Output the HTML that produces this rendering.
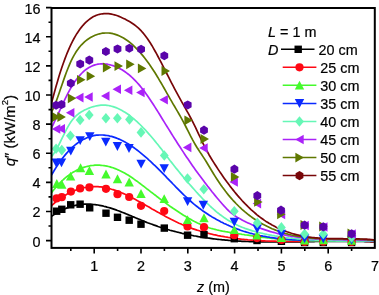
<!DOCTYPE html>
<html><head><meta charset="utf-8"><style>
html,body{margin:0;padding:0;background:#fff;}
body{width:379px;height:295px;overflow:hidden;}
svg{display:block;}
text{font-family:"Liberation Sans",Arial,sans-serif;font-size:14.4px;fill:#000;stroke:#000;stroke-width:0.2px;}
</style></head><body>
<svg width="379" height="295" viewBox="0 0 379 295">
<rect width="379" height="295" fill="#fff"/>

<defs><clipPath id="c"><rect x="51.5" y="8.0" width="323.3" height="239.9"/></clipPath></defs><g clip-path="url(#c)" fill="none" stroke-width="1.7" stroke-linejoin="round">
<polyline points="51.5,216.4 53.0,215.4 54.5,214.4 56.0,213.4 57.5,212.5 59.0,211.7 60.5,210.9 62.0,210.1 63.5,209.4 65.0,208.7 66.5,208.1 68.0,207.6 69.5,207.1 71.0,206.6 72.5,206.2 74.0,205.8 75.5,205.4 77.0,205.1 78.5,204.9 80.0,204.7 81.5,204.5 83.0,204.3 84.5,204.2 86.0,204.2 87.5,204.2 89.0,204.2 90.5,204.2 92.0,204.3 93.5,204.5 95.0,204.6 96.5,204.8 98.0,205.0 99.5,205.3 101.0,205.6 102.5,205.9 104.0,206.3 105.5,206.6 107.0,207.1 108.5,207.5 110.0,207.9 111.5,208.4 113.0,208.9 114.5,209.4 116.0,209.9 117.5,210.5 119.0,211.0 120.5,211.6 122.0,212.2 123.5,212.8 125.0,213.4 126.5,214.0 128.0,214.6 129.5,215.2 131.0,215.8 132.5,216.5 134.0,217.1 135.5,217.7 137.0,218.4 138.5,219.0 140.0,219.6 141.5,220.3 143.0,220.9 144.5,221.5 146.0,222.1 147.5,222.7 149.0,223.2 150.5,223.8 152.0,224.3 153.5,224.9 155.0,225.4 156.5,225.9 158.0,226.5 159.5,227.0 161.0,227.4 162.5,227.9 164.0,228.4 165.5,228.8 167.0,229.3 168.5,229.7 170.0,230.2 171.5,230.6 173.0,231.0 174.5,231.4 176.0,231.8 177.5,232.2 179.0,232.5 180.5,232.9 182.0,233.3 183.5,233.6 185.0,233.9 186.5,234.3 188.0,234.6 189.5,234.9 191.0,235.2 192.5,235.5 194.0,235.8 195.5,236.0 197.0,236.3 198.5,236.6 200.0,236.8 201.5,237.1 203.0,237.3 204.5,237.6 206.0,237.8 207.5,238.0 209.0,238.2 210.5,238.4 212.0,238.6 213.5,238.8 215.0,239.0 216.5,239.2 218.0,239.3 219.5,239.5 221.0,239.6 222.5,239.8 224.0,239.9 225.5,240.1 227.0,240.2 228.5,240.3 230.0,240.5 231.5,240.6 233.0,240.7 234.5,240.8 236.0,240.9 237.5,241.0 239.0,241.1 240.5,241.2 242.0,241.3 243.5,241.3 245.0,241.4 246.5,241.5 248.0,241.5 249.5,241.6 251.0,241.6 252.5,241.7 254.0,241.7 255.5,241.8 257.0,241.8 258.5,241.9 260.0,241.9 261.5,241.9 263.0,241.9 264.5,242.0 266.0,242.0 267.5,242.0 269.0,242.0 270.5,242.0 272.0,242.0 273.5,242.0 275.0,242.0 276.5,242.0 278.0,242.0 279.5,242.0 281.0,242.0 282.5,242.0 284.0,242.0 285.5,242.0 287.0,242.0 288.5,242.0 290.0,241.9 291.5,241.9 293.0,241.9 294.5,241.9 296.0,241.9 297.5,241.8 299.0,241.8 300.5,241.8 302.0,241.8 303.5,241.7 305.0,241.7 306.5,241.7 308.0,241.7 309.5,241.6 311.0,241.6 312.5,241.6 314.0,241.6 315.5,241.5 317.0,241.5 318.5,241.5 320.0,241.5 321.5,241.4 323.0,241.4 324.5,241.4 326.0,241.4 327.5,241.4 329.0,241.3 330.5,241.3 332.0,241.3 333.5,241.3 335.0,241.3 336.5,241.3 338.0,241.3 339.5,241.3 341.0,241.3 342.5,241.3 344.0,241.3 345.5,241.3 347.0,241.3 348.5,241.3 350.0,241.3 351.5,241.3 353.0,241.3 354.5,241.3 356.0,241.4 357.5,241.4 359.0,241.4 360.5,241.5 362.0,241.5 363.5,241.5 365.0,241.6 366.5,241.6 368.0,241.7 369.5,241.7 371.0,241.8 372.5,241.9 374.0,241.9" stroke="#000000"/>
<polyline points="51.5,205.6 53.0,204.3 54.5,203.0 56.0,201.7 57.5,200.5 59.0,199.4 60.5,198.3 62.0,197.3 63.5,196.3 65.0,195.4 66.5,194.5 68.0,193.6 69.5,192.8 71.0,192.1 72.5,191.4 74.0,190.8 75.5,190.2 77.0,189.6 78.5,189.1 80.0,188.6 81.5,188.2 83.0,187.9 84.5,187.5 86.0,187.3 87.5,187.0 89.0,186.8 90.5,186.7 92.0,186.6 93.5,186.6 95.0,186.5 96.5,186.6 98.0,186.7 99.5,186.8 101.0,186.9 102.5,187.1 104.0,187.4 105.5,187.7 107.0,188.0 108.5,188.3 110.0,188.7 111.5,189.2 113.0,189.6 114.5,190.1 116.0,190.6 117.5,191.2 119.0,191.8 120.5,192.4 122.0,193.0 123.5,193.6 125.0,194.3 126.5,195.0 128.0,195.7 129.5,196.5 131.0,197.2 132.5,198.0 134.0,198.8 135.5,199.6 137.0,200.4 138.5,201.2 140.0,202.0 141.5,202.9 143.0,203.7 144.5,204.6 146.0,205.4 147.5,206.3 149.0,207.1 150.5,208.0 152.0,208.9 153.5,209.7 155.0,210.6 156.5,211.4 158.0,212.3 159.5,213.1 161.0,214.0 162.5,214.8 164.0,215.6 165.5,216.4 167.0,217.2 168.5,218.0 170.0,218.8 171.5,219.6 173.0,220.3 174.5,221.1 176.0,221.8 177.5,222.5 179.0,223.2 180.5,223.8 182.0,224.5 183.5,225.1 185.0,225.7 186.5,226.3 188.0,226.9 189.5,227.5 191.0,228.0 192.5,228.6 194.0,229.1 195.5,229.6 197.0,230.1 198.5,230.5 200.0,231.0 201.5,231.4 203.0,231.9 204.5,232.3 206.0,232.7 207.5,233.1 209.0,233.5 210.5,233.9 212.0,234.2 213.5,234.6 215.0,234.9 216.5,235.2 218.0,235.6 219.5,235.9 221.0,236.2 222.5,236.4 224.0,236.7 225.5,237.0 227.0,237.2 228.5,237.5 230.0,237.7 231.5,237.9 233.0,238.2 234.5,238.4 236.0,238.6 237.5,238.8 239.0,238.9 240.5,239.1 242.0,239.3 243.5,239.4 245.0,239.6 246.5,239.7 248.0,239.9 249.5,240.0 251.0,240.1 252.5,240.2 254.0,240.4 255.5,240.5 257.0,240.5 258.5,240.6 260.0,240.7 261.5,240.8 263.0,240.9 264.5,240.9 266.0,241.0 267.5,241.0 269.0,241.1 270.5,241.1 272.0,241.2 273.5,241.2 275.0,241.2 276.5,241.3 278.0,241.3 279.5,241.3 281.0,241.3 282.5,241.3 284.0,241.3 285.5,241.3 287.0,241.3 288.5,241.3 290.0,241.3 291.5,241.3 293.0,241.3 294.5,241.3 296.0,241.3 297.5,241.3 299.0,241.3 300.5,241.2 302.0,241.2 303.5,241.2 305.0,241.2 306.5,241.1 308.0,241.1 309.5,241.1 311.0,241.1 312.5,241.0 314.0,241.0 315.5,241.0 317.0,241.0 318.5,240.9 320.0,240.9 321.5,240.9 323.0,240.9 324.5,240.8 326.0,240.8 327.5,240.8 329.0,240.8 330.5,240.8 332.0,240.7 333.5,240.7 335.0,240.7 336.5,240.7 338.0,240.7 339.5,240.7 341.0,240.7 342.5,240.7 344.0,240.7 345.5,240.7 347.0,240.7 348.5,240.7 350.0,240.8 351.5,240.8 353.0,240.8 354.5,240.8 356.0,240.9 357.5,240.9 359.0,241.0 360.5,241.0 362.0,241.1 363.5,241.1 365.0,241.2 366.5,241.3 368.0,241.4 369.5,241.5 371.0,241.5 372.5,241.6 374.0,241.7" stroke="#ff0814"/>
<polyline points="51.5,192.7 53.0,190.8 54.5,189.0 56.0,187.2 57.5,185.5 59.0,183.9 60.5,182.4 62.0,180.9 63.5,179.5 65.0,178.2 66.5,176.9 68.0,175.8 69.5,174.6 71.0,173.6 72.5,172.6 74.0,171.7 75.5,170.9 77.0,170.1 78.5,169.4 80.0,168.7 81.5,168.1 83.0,167.6 84.5,167.1 86.0,166.7 87.5,166.3 89.0,166.0 90.5,165.7 92.0,165.5 93.5,165.4 95.0,165.2 96.5,165.2 98.0,165.2 99.5,165.2 101.0,165.3 102.5,165.5 104.0,165.7 105.5,165.9 107.0,166.2 108.5,166.5 110.0,166.9 111.5,167.4 113.0,167.8 114.5,168.4 116.0,168.9 117.5,169.6 119.0,170.2 120.5,170.9 122.0,171.7 123.5,172.5 125.0,173.3 126.5,174.2 128.0,175.1 129.5,176.0 131.0,177.0 132.5,178.0 134.0,179.1 135.5,180.2 137.0,181.2 138.5,182.4 140.0,183.5 141.5,184.6 143.0,185.8 144.5,186.9 146.0,188.1 147.5,189.3 149.0,190.4 150.5,191.6 152.0,192.7 153.5,193.9 155.0,195.0 156.5,196.2 158.0,197.3 159.5,198.5 161.0,199.6 162.5,200.7 164.0,201.8 165.5,202.9 167.0,204.0 168.5,205.1 170.0,206.2 171.5,207.2 173.0,208.3 174.5,209.3 176.0,210.3 177.5,211.3 179.0,212.3 180.5,213.3 182.0,214.2 183.5,215.2 185.0,216.1 186.5,217.0 188.0,217.9 189.5,218.7 191.0,219.5 192.5,220.4 194.0,221.2 195.5,221.9 197.0,222.7 198.5,223.4 200.0,224.1 201.5,224.7 203.0,225.4 204.5,226.0 206.0,226.6 207.5,227.1 209.0,227.7 210.5,228.2 212.0,228.6 213.5,229.0 215.0,229.4 216.5,229.8 218.0,230.2 219.5,230.5 221.0,230.8 222.5,231.1 224.0,231.3 225.5,231.6 227.0,231.8 228.5,232.1 230.0,232.3 231.5,232.6 233.0,232.8 234.5,233.1 236.0,233.3 237.5,233.6 239.0,233.8 240.5,234.0 242.0,234.3 243.5,234.5 245.0,234.8 246.5,235.0 248.0,235.2 249.5,235.4 251.0,235.7 252.5,235.9 254.0,236.1 255.5,236.3 257.0,236.5 258.5,236.7 260.0,236.9 261.5,237.1 263.0,237.3 264.5,237.5 266.0,237.7 267.5,237.8 269.0,238.0 270.5,238.2 272.0,238.3 273.5,238.5 275.0,238.6 276.5,238.8 278.0,238.9 279.5,239.0 281.0,239.2 282.5,239.3 284.0,239.4 285.5,239.5 287.0,239.6 288.5,239.7 290.0,239.8 291.5,239.9 293.0,240.0 294.5,240.1 296.0,240.2 297.5,240.2 299.0,240.3 300.5,240.4 302.0,240.4 303.5,240.5 305.0,240.6 306.5,240.6 308.0,240.7 309.5,240.7 311.0,240.8 312.5,240.8 314.0,240.8 315.5,240.9 317.0,240.9 318.5,241.0 320.0,241.0 321.5,241.0 323.0,241.0 324.5,241.1 326.0,241.1 327.5,241.1 329.0,241.1 330.5,241.1 332.0,241.2 333.5,241.2 335.0,241.2 336.5,241.2 338.0,241.2 339.5,241.2 341.0,241.2 342.5,241.2 344.0,241.2 345.5,241.2 347.0,241.2 348.5,241.2 350.0,241.2 351.5,241.2 353.0,241.2 354.5,241.2 356.0,241.2 357.5,241.2 359.0,241.2 360.5,241.2 362.0,241.2 363.5,241.2 365.0,241.2 366.5,241.2 368.0,241.2 369.5,241.2 371.0,241.2 372.5,241.2 374.0,241.3" stroke="#45fa2c"/>
<polyline points="51.5,175.1 53.0,172.5 54.5,170.0 56.0,167.6 57.5,165.3 59.0,163.1 60.5,161.0 62.0,158.9 63.5,157.0 65.0,155.1 66.5,153.4 68.0,151.7 69.5,150.1 71.0,148.6 72.5,147.2 74.0,145.9 75.5,144.7 77.0,143.5 78.5,142.4 80.0,141.4 81.5,140.5 83.0,139.6 84.5,138.9 86.0,138.2 87.5,137.5 89.0,137.0 90.5,136.5 92.0,136.1 93.5,135.7 95.0,135.4 96.5,135.2 98.0,135.1 99.5,135.0 101.0,135.0 102.5,135.0 104.0,135.1 105.5,135.3 107.0,135.5 108.5,135.7 110.0,136.1 111.5,136.4 113.0,136.9 114.5,137.4 116.0,137.9 117.5,138.5 119.0,139.1 120.5,139.8 122.0,140.5 123.5,141.3 125.0,142.1 126.5,142.9 128.0,143.8 129.5,144.8 131.0,145.8 132.5,146.8 134.0,147.8 135.5,148.9 137.0,150.0 138.5,151.2 140.0,152.4 141.5,153.6 143.0,154.8 144.5,156.1 146.0,157.4 147.5,158.7 149.0,160.1 150.5,161.4 152.0,162.8 153.5,164.3 155.0,165.7 156.5,167.1 158.0,168.6 159.5,170.1 161.0,171.6 162.5,173.1 164.0,174.7 165.5,176.2 167.0,177.8 168.5,179.3 170.0,180.9 171.5,182.4 173.0,184.0 174.5,185.5 176.0,187.1 177.5,188.6 179.0,190.1 180.5,191.6 182.0,193.1 183.5,194.6 185.0,196.0 186.5,197.4 188.0,198.8 189.5,200.2 191.0,201.5 192.5,202.8 194.0,204.1 195.5,205.3 197.0,206.5 198.5,207.7 200.0,208.8 201.5,209.9 203.0,211.0 204.5,212.0 206.0,213.0 207.5,214.0 209.0,215.0 210.5,215.9 212.0,216.9 213.5,217.7 215.0,218.6 216.5,219.5 218.0,220.3 219.5,221.1 221.0,221.9 222.5,222.6 224.0,223.4 225.5,224.1 227.0,224.8 228.5,225.4 230.0,226.1 231.5,226.7 233.0,227.4 234.5,228.0 236.0,228.5 237.5,229.1 239.0,229.6 240.5,230.2 242.0,230.7 243.5,231.2 245.0,231.6 246.5,232.1 248.0,232.5 249.5,233.0 251.0,233.4 252.5,233.8 254.0,234.2 255.5,234.5 257.0,234.9 258.5,235.2 260.0,235.6 261.5,235.9 263.0,236.2 264.5,236.4 266.0,236.7 267.5,237.0 269.0,237.2 270.5,237.5 272.0,237.7 273.5,237.9 275.0,238.1 276.5,238.3 278.0,238.5 279.5,238.6 281.0,238.8 282.5,238.9 284.0,239.1 285.5,239.2 287.0,239.3 288.5,239.5 290.0,239.6 291.5,239.7 293.0,239.8 294.5,239.8 296.0,239.9 297.5,240.0 299.0,240.1 300.5,240.1 302.0,240.2 303.5,240.2 305.0,240.2 306.5,240.3 308.0,240.3 309.5,240.3 311.0,240.4 312.5,240.4 314.0,240.4 315.5,240.4 317.0,240.4 318.5,240.4 320.0,240.4 321.5,240.4 323.0,240.4 324.5,240.4 326.0,240.4 327.5,240.4 329.0,240.4 330.5,240.4 332.0,240.4 333.5,240.4 335.0,240.4 336.5,240.4 338.0,240.4 339.5,240.4 341.0,240.4 342.5,240.4 344.0,240.4 345.5,240.4 347.0,240.4 348.5,240.4 350.0,240.4 351.5,240.4 353.0,240.4 354.5,240.5 356.0,240.5 357.5,240.5 359.0,240.6 360.5,240.6 362.0,240.7 363.5,240.7 365.0,240.8 366.5,240.8 368.0,240.9 369.5,241.0 371.0,241.1 372.5,241.2 374.0,241.3" stroke="#0a2aff"/>
<polyline points="51.5,156.6 53.0,154.7 54.5,152.6 56.0,150.1 57.5,147.4 59.0,144.5 60.5,141.5 62.0,138.4 63.5,135.3 65.0,132.3 66.5,129.4 68.0,126.6 69.5,124.1 71.0,121.8 72.5,119.8 74.0,118.0 75.5,116.4 77.0,115.0 78.5,113.8 80.0,112.7 81.5,111.8 83.0,110.9 84.5,110.1 86.0,109.4 87.5,108.7 89.0,108.1 90.5,107.5 92.0,107.0 93.5,106.6 95.0,106.2 96.5,105.8 98.0,105.6 99.5,105.4 101.0,105.2 102.5,105.1 104.0,105.1 105.5,105.2 107.0,105.3 108.5,105.5 110.0,105.8 111.5,106.2 113.0,106.6 114.5,107.1 116.0,107.6 117.5,108.2 119.0,108.9 120.5,109.7 122.0,110.5 123.5,111.4 125.0,112.3 126.5,113.3 128.0,114.3 129.5,115.4 131.0,116.6 132.5,117.8 134.0,119.0 135.5,120.4 137.0,121.7 138.5,123.1 140.0,124.5 141.5,126.0 143.0,127.6 144.5,129.1 146.0,130.7 147.5,132.4 149.0,134.1 150.5,135.8 152.0,137.5 153.5,139.3 155.0,141.1 156.5,143.0 158.0,144.8 159.5,146.7 161.0,148.6 162.5,150.6 164.0,152.5 165.5,154.5 167.0,156.5 168.5,158.5 170.0,160.5 171.5,162.4 173.0,164.3 174.5,166.2 176.0,168.1 177.5,169.9 179.0,171.7 180.5,173.6 182.0,175.4 183.5,177.2 185.0,178.9 186.5,180.7 188.0,182.5 189.5,184.2 191.0,185.9 192.5,187.6 194.0,189.3 195.5,191.0 197.0,192.7 198.5,194.3 200.0,195.9 201.5,197.5 203.0,199.1 204.5,200.6 206.0,202.1 207.5,203.6 209.0,205.0 210.5,206.5 212.0,207.8 213.5,209.2 215.0,210.5 216.5,211.8 218.0,213.0 219.5,214.2 221.0,215.3 222.5,216.4 224.0,217.5 225.5,218.5 227.0,219.5 228.5,220.4 230.0,221.3 231.5,222.2 233.0,223.0 234.5,223.8 236.0,224.5 237.5,225.2 239.0,225.9 240.5,226.6 242.0,227.2 243.5,227.8 245.0,228.4 246.5,228.9 248.0,229.4 249.5,229.9 251.0,230.4 252.5,230.9 254.0,231.3 255.5,231.7 257.0,232.1 258.5,232.5 260.0,232.8 261.5,233.2 263.0,233.5 264.5,233.9 266.0,234.2 267.5,234.5 269.0,234.8 270.5,235.1 272.0,235.4 273.5,235.6 275.0,235.9 276.5,236.1 278.0,236.4 279.5,236.6 281.0,236.8 282.5,237.1 284.0,237.3 285.5,237.5 287.0,237.7 288.5,237.9 290.0,238.0 291.5,238.2 293.0,238.4 294.5,238.5 296.0,238.7 297.5,238.8 299.0,239.0 300.5,239.1 302.0,239.2 303.5,239.3 305.0,239.5 306.5,239.6 308.0,239.7 309.5,239.8 311.0,239.9 312.5,239.9 314.0,240.0 315.5,240.1 317.0,240.2 318.5,240.2 320.0,240.3 321.5,240.4 323.0,240.4 324.5,240.5 326.0,240.5 327.5,240.6 329.0,240.6 330.5,240.6 332.0,240.7 333.5,240.7 335.0,240.7 336.5,240.8 338.0,240.8 339.5,240.8 341.0,240.8 342.5,240.8 344.0,240.8 345.5,240.9 347.0,240.9 348.5,240.9 350.0,240.9 351.5,240.9 353.0,240.9 354.5,240.9 356.0,240.9 357.5,240.9 359.0,240.9 360.5,240.9 362.0,240.9 363.5,240.9 365.0,240.9 366.5,240.9 368.0,240.9 369.5,240.9 371.0,240.9 372.5,240.9 374.0,240.9" stroke="#66f7b6"/>
<polyline points="51.5,127.9 53.0,124.9 54.5,121.7 56.0,118.6 57.5,115.3 59.0,112.1 60.5,108.8 62.0,105.6 63.5,102.4 65.0,99.2 66.5,96.2 68.0,93.2 69.5,90.4 71.0,87.7 72.5,85.2 74.0,82.8 75.5,80.7 77.0,78.7 78.5,76.8 80.0,75.1 81.5,73.5 83.0,72.0 84.5,70.7 86.0,69.5 87.5,68.5 89.0,67.5 90.5,66.7 92.0,66.0 93.5,65.4 95.0,64.9 96.5,64.5 98.0,64.2 99.5,64.0 101.0,63.8 102.5,63.8 104.0,63.9 105.5,64.0 107.0,64.2 108.5,64.5 110.0,64.8 111.5,65.2 113.0,65.6 114.5,66.2 116.0,66.8 117.5,67.4 119.0,68.2 120.5,69.0 122.0,69.8 123.5,70.8 125.0,71.8 126.5,72.9 128.0,74.0 129.5,75.2 131.0,76.5 132.5,77.9 134.0,79.3 135.5,80.9 137.0,82.5 138.5,84.1 140.0,85.9 141.5,87.7 143.0,89.6 144.5,91.6 146.0,93.7 147.5,95.8 149.0,98.0 150.5,100.2 152.0,102.5 153.5,104.8 155.0,107.1 156.5,109.5 158.0,111.9 159.5,114.3 161.0,116.8 162.5,119.2 164.0,121.6 165.5,124.1 167.0,126.5 168.5,128.9 170.0,131.3 171.5,133.7 173.0,136.1 174.5,138.5 176.0,140.8 177.5,143.2 179.0,145.5 180.5,147.8 182.0,150.1 183.5,152.4 185.0,154.7 186.5,156.9 188.0,159.1 189.5,161.3 191.0,163.5 192.5,165.7 194.0,167.8 195.5,169.9 197.0,172.0 198.5,174.1 200.0,176.1 201.5,178.1 203.0,180.1 204.5,182.1 206.0,184.0 207.5,186.0 209.0,187.9 210.5,189.8 212.0,191.7 213.5,193.5 215.0,195.4 216.5,197.2 218.0,199.0 219.5,200.8 221.0,202.5 222.5,204.2 224.0,205.9 225.5,207.5 227.0,209.1 228.5,210.6 230.0,212.0 231.5,213.2 233.0,214.4 234.5,215.5 236.0,216.5 237.5,217.4 239.0,218.2 240.5,219.1 242.0,219.9 243.5,220.7 245.0,221.4 246.5,222.2 248.0,222.9 249.5,223.6 251.0,224.3 252.5,225.0 254.0,225.6 255.5,226.2 257.0,226.9 258.5,227.5 260.0,228.0 261.5,228.6 263.0,229.1 264.5,229.6 266.0,230.1 267.5,230.6 269.0,231.1 270.5,231.6 272.0,232.0 273.5,232.4 275.0,232.8 276.5,233.2 278.0,233.6 279.5,233.9 281.0,234.3 282.5,234.6 284.0,234.9 285.5,235.2 287.0,235.5 288.5,235.8 290.0,236.0 291.5,236.3 293.0,236.5 294.5,236.7 296.0,236.9 297.5,237.1 299.0,237.3 300.5,237.5 302.0,237.7 303.5,237.9 305.0,238.0 306.5,238.2 308.0,238.3 309.5,238.4 311.0,238.5 312.5,238.6 314.0,238.7 315.5,238.8 317.0,238.9 318.5,239.0 320.0,239.1 321.5,239.2 323.0,239.2 324.5,239.3 326.0,239.3 327.5,239.4 329.0,239.4 330.5,239.5 332.0,239.5 333.5,239.6 335.0,239.6 336.5,239.6 338.0,239.7 339.5,239.7 341.0,239.7 342.5,239.7 344.0,239.8 345.5,239.8 347.0,239.8 348.5,239.8 350.0,239.9 351.5,239.9 353.0,239.9 354.5,239.9 356.0,240.0 357.5,240.0 359.0,240.0 360.5,240.1 362.0,240.1 363.5,240.2 365.0,240.2 366.5,240.3 368.0,240.3 369.5,240.4 371.0,240.4 372.5,240.5 374.0,240.6" stroke="#aa22f8"/>
<polyline points="51.5,112.1 53.0,109.1 54.5,105.7 56.0,101.9 57.5,97.8 59.0,93.5 60.5,89.1 62.0,84.7 63.5,80.4 65.0,76.1 66.5,72.0 68.0,68.2 69.5,64.6 71.0,61.2 72.5,58.2 74.0,55.4 75.5,52.8 77.0,50.5 78.5,48.4 80.0,46.5 81.5,44.8 83.0,43.3 84.5,41.9 86.0,40.6 87.5,39.5 89.0,38.5 90.5,37.6 92.0,36.7 93.5,36.0 95.0,35.3 96.5,34.7 98.0,34.2 99.5,33.8 101.0,33.5 102.5,33.2 104.0,33.1 105.5,33.0 107.0,33.0 108.5,33.0 110.0,33.2 111.5,33.4 113.0,33.7 114.5,34.1 116.0,34.6 117.5,35.1 119.0,35.7 120.5,36.4 122.0,37.2 123.5,38.0 125.0,39.0 126.5,40.0 128.0,41.0 129.5,42.2 131.0,43.4 132.5,44.7 134.0,46.1 135.5,47.6 137.0,49.1 138.5,50.7 140.0,52.3 141.5,54.1 143.0,55.9 144.5,57.8 146.0,59.7 147.5,61.7 149.0,63.8 150.5,66.0 152.0,68.2 153.5,70.5 155.0,72.8 156.5,75.3 158.0,77.7 159.5,80.3 161.0,82.8 162.5,85.4 164.0,88.0 165.5,90.7 167.0,93.3 168.5,95.9 170.0,98.6 171.5,101.2 173.0,103.8 174.5,106.3 176.0,108.9 177.5,111.4 179.0,114.0 180.5,116.7 182.0,119.4 183.5,122.2 185.0,125.0 186.5,128.0 188.0,130.9 189.5,133.9 191.0,136.8 192.5,139.7 194.0,142.4 195.5,145.0 197.0,147.5 198.5,149.8 200.0,152.1 201.5,154.3 203.0,156.6 204.5,158.9 206.0,161.3 207.5,163.8 209.0,166.2 210.5,168.7 212.0,171.2 213.5,173.7 215.0,176.1 216.5,178.5 218.0,180.8 219.5,183.0 221.0,185.2 222.5,187.3 224.0,189.3 225.5,191.3 227.0,193.2 228.5,195.1 230.0,196.9 231.5,198.6 233.0,200.3 234.5,201.9 236.0,203.5 237.5,205.0 239.0,206.5 240.5,207.9 242.0,209.3 243.5,210.6 245.0,211.9 246.5,213.1 248.0,214.3 249.5,215.5 251.0,216.6 252.5,217.7 254.0,218.7 255.5,219.7 257.0,220.7 258.5,221.6 260.0,222.5 261.5,223.4 263.0,224.3 264.5,225.1 266.0,225.8 267.5,226.6 269.0,227.3 270.5,228.0 272.0,228.7 273.5,229.3 275.0,229.9 276.5,230.5 278.0,231.0 279.5,231.6 281.0,232.1 282.5,232.6 284.0,233.0 285.5,233.5 287.0,233.9 288.5,234.3 290.0,234.6 291.5,235.0 293.0,235.3 294.5,235.6 296.0,235.9 297.5,236.2 299.0,236.4 300.5,236.7 302.0,236.9 303.5,237.1 305.0,237.3 306.5,237.5 308.0,237.7 309.5,237.8 311.0,238.0 312.5,238.1 314.0,238.2 315.5,238.3 317.0,238.4 318.5,238.5 320.0,238.6 321.5,238.6 323.0,238.7 324.5,238.7 326.0,238.8 327.5,238.8 329.0,238.9 330.5,238.9 332.0,238.9 333.5,238.9 335.0,238.9 336.5,239.0 338.0,239.0 339.5,239.0 341.0,239.0 342.5,239.0 344.0,239.0 345.5,239.0 347.0,239.1 348.5,239.1 350.0,239.1 351.5,239.1 353.0,239.1 354.5,239.2 356.0,239.2 357.5,239.3 359.0,239.3 360.5,239.4 362.0,239.4 363.5,239.5 365.0,239.6 366.5,239.7 368.0,239.8 369.5,239.9 371.0,240.0 372.5,240.1 374.0,240.3" stroke="#5f7800"/>
<polyline points="51.5,103.1 53.0,97.5 54.5,92.0 56.0,86.6 57.5,81.4 59.0,76.3 60.5,71.6 62.0,67.0 63.5,62.7 65.0,58.6 66.5,54.7 68.0,51.1 69.5,47.6 71.0,44.4 72.5,41.4 74.0,38.5 75.5,35.9 77.0,33.4 78.5,31.2 80.0,29.0 81.5,27.1 83.0,25.3 84.5,23.7 86.0,22.2 87.5,20.8 89.0,19.6 90.5,18.5 92.0,17.5 93.5,16.6 95.0,15.9 96.5,15.3 98.0,14.7 99.5,14.3 101.0,14.0 102.5,13.8 104.0,13.6 105.5,13.6 107.0,13.6 108.5,13.7 110.0,13.9 111.5,14.2 113.0,14.5 114.5,14.9 116.0,15.3 117.5,15.8 119.0,16.4 120.5,17.0 122.0,17.7 123.5,18.4 125.0,19.1 126.5,19.9 128.0,20.7 129.5,21.6 131.0,22.5 132.5,23.5 134.0,24.5 135.5,25.7 137.0,26.9 138.5,28.2 140.0,29.7 141.5,31.2 143.0,32.9 144.5,34.7 146.0,36.7 147.5,38.7 149.0,41.0 150.5,43.3 152.0,45.7 153.5,48.3 155.0,51.0 156.5,53.7 158.0,56.5 159.5,59.3 161.0,62.2 162.5,65.1 164.0,68.1 165.5,71.0 167.0,74.0 168.5,76.9 170.0,79.9 171.5,82.8 173.0,85.7 174.5,88.6 176.0,91.4 177.5,94.2 179.0,96.9 180.5,99.6 182.0,102.3 183.5,104.9 185.0,107.6 186.5,110.3 188.0,112.9 189.5,115.7 191.0,118.5 192.5,121.4 194.0,124.4 195.5,127.4 197.0,130.6 198.5,133.8 200.0,137.0 201.5,140.2 203.0,143.3 204.5,146.4 206.0,149.3 207.5,152.0 209.0,154.7 210.5,157.2 212.0,159.7 213.5,162.1 215.0,164.5 216.5,166.8 218.0,169.1 219.5,171.4 221.0,173.6 222.5,175.8 224.0,177.9 225.5,180.0 227.0,182.1 228.5,184.1 230.0,186.1 231.5,188.0 233.0,189.9 234.5,191.8 236.0,193.6 237.5,195.4 239.0,197.1 240.5,198.8 242.0,200.5 243.5,202.1 245.0,203.7 246.5,205.2 248.0,206.7 249.5,208.1 251.0,209.6 252.5,210.9 254.0,212.2 255.5,213.5 257.0,214.8 258.5,216.0 260.0,217.1 261.5,218.2 263.0,219.3 264.5,220.4 266.0,221.4 267.5,222.3 269.0,223.3 270.5,224.1 272.0,225.0 273.5,225.8 275.0,226.6 276.5,227.4 278.0,228.1 279.5,228.8 281.0,229.4 282.5,230.1 284.0,230.7 285.5,231.2 287.0,231.8 288.5,232.3 290.0,232.8 291.5,233.3 293.0,233.7 294.5,234.1 296.0,234.5 297.5,234.9 299.0,235.2 300.5,235.6 302.0,235.9 303.5,236.1 305.0,236.4 306.5,236.6 308.0,236.9 309.5,237.1 311.0,237.3 312.5,237.5 314.0,237.6 315.5,237.8 317.0,237.9 318.5,238.0 320.0,238.1 321.5,238.2 323.0,238.3 324.5,238.4 326.0,238.4 327.5,238.5 329.0,238.6 330.5,238.6 332.0,238.6 333.5,238.7 335.0,238.7 336.5,238.7 338.0,238.7 339.5,238.7 341.0,238.7 342.5,238.7 344.0,238.8 345.5,238.8 347.0,238.8 348.5,238.8 350.0,238.8 351.5,238.8 353.0,238.8 354.5,238.8 356.0,238.9 357.5,238.9 359.0,238.9 360.5,239.0 362.0,239.0 363.5,239.1 365.0,239.2 366.5,239.2 368.0,239.3 369.5,239.4 371.0,239.5 372.5,239.7 374.0,239.8" stroke="#780608"/>
</g>
<g>
<rect x="53.0" y="207.5" width="7.4" height="7.4" fill="#000000"/>
<rect x="58.1" y="205.6" width="7.4" height="7.4" fill="#000000"/>
<rect x="67.0" y="201.1" width="7.4" height="7.4" fill="#000000"/>
<rect x="76.4" y="200.5" width="7.4" height="7.4" fill="#000000"/>
<rect x="86.0" y="204.1" width="7.4" height="7.4" fill="#000000"/>
<rect x="102.3" y="209.5" width="7.4" height="7.4" fill="#000000"/>
<rect x="113.8" y="213.6" width="7.4" height="7.4" fill="#000000"/>
<rect x="125.5" y="216.5" width="7.4" height="7.4" fill="#000000"/>
<rect x="137.3" y="220.5" width="7.4" height="7.4" fill="#000000"/>
<rect x="160.6" y="224.4" width="7.4" height="7.4" fill="#000000"/>
<rect x="183.9" y="231.5" width="7.4" height="7.4" fill="#000000"/>
<rect x="200.3" y="230.9" width="7.4" height="7.4" fill="#000000"/>
<rect x="230.6" y="235.0" width="7.4" height="7.4" fill="#000000"/>
<rect x="253.3" y="236.8" width="7.4" height="7.4" fill="#000000"/>
<rect x="277.7" y="237.6" width="7.4" height="7.4" fill="#000000"/>
<rect x="300.9" y="238.8" width="7.4" height="7.4" fill="#000000"/>
<rect x="319.6" y="238.8" width="7.4" height="7.4" fill="#000000"/>
<rect x="347.9" y="238.8" width="7.4" height="7.4" fill="#000000"/>
<circle cx="56.6" cy="198.4" r="4.10" fill="#ff0814"/>
<circle cx="61.8" cy="197.2" r="4.10" fill="#ff0814"/>
<circle cx="70.9" cy="191.6" r="4.10" fill="#ff0814"/>
<circle cx="80.1" cy="188.4" r="4.10" fill="#ff0814"/>
<circle cx="89.4" cy="187.4" r="4.10" fill="#ff0814"/>
<circle cx="106.0" cy="188.8" r="4.10" fill="#ff0814"/>
<circle cx="117.5" cy="194.2" r="4.10" fill="#ff0814"/>
<circle cx="129.2" cy="197.0" r="4.10" fill="#ff0814"/>
<circle cx="141.0" cy="205.8" r="4.10" fill="#ff0814"/>
<circle cx="164.2" cy="211.0" r="4.10" fill="#ff0814"/>
<circle cx="187.5" cy="226.4" r="4.10" fill="#ff0814"/>
<circle cx="204.0" cy="227.2" r="4.10" fill="#ff0814"/>
<circle cx="234.3" cy="235.2" r="4.10" fill="#ff0814"/>
<circle cx="257.0" cy="238.1" r="4.10" fill="#ff0814"/>
<circle cx="281.4" cy="239.9" r="4.10" fill="#ff0814"/>
<circle cx="304.6" cy="241.9" r="4.10" fill="#ff0814"/>
<circle cx="323.3" cy="241.7" r="4.10" fill="#ff0814"/>
<circle cx="351.6" cy="242.0" r="4.10" fill="#ff0814"/>
<path d="M56.8,179.1L61.5,188.0L52.1,188.0Z" fill="#45fa2c"/>
<path d="M61.8,179.8L66.5,188.7L57.1,188.7Z" fill="#45fa2c"/>
<path d="M70.6,171.7L75.3,180.6L65.9,180.6Z" fill="#45fa2c"/>
<path d="M80.6,163.3L85.3,172.2L75.9,172.2Z" fill="#45fa2c"/>
<path d="M89.4,166.0L94.1,174.9L84.7,174.9Z" fill="#45fa2c"/>
<path d="M106.0,169.6L110.7,178.5L101.3,178.5Z" fill="#45fa2c"/>
<path d="M117.5,174.3L122.2,183.2L112.8,183.2Z" fill="#45fa2c"/>
<path d="M129.2,177.6L133.9,186.5L124.5,186.5Z" fill="#45fa2c"/>
<path d="M141.0,189.0L145.7,197.9L136.3,197.9Z" fill="#45fa2c"/>
<path d="M164.2,194.2L168.9,203.1L159.5,203.1Z" fill="#45fa2c"/>
<path d="M187.5,215.2L192.2,224.1L182.8,224.1Z" fill="#45fa2c"/>
<path d="M204.0,213.3L208.7,222.2L199.3,222.2Z" fill="#45fa2c"/>
<path d="M234.3,225.2L239.0,234.1L229.6,234.1Z" fill="#45fa2c"/>
<path d="M257.0,230.6L261.7,239.5L252.3,239.5Z" fill="#45fa2c"/>
<path d="M281.4,233.0L286.1,241.9L276.7,241.9Z" fill="#45fa2c"/>
<path d="M304.6,235.5L309.3,244.4L299.9,244.4Z" fill="#45fa2c"/>
<path d="M323.3,235.3L328.0,244.2L318.6,244.2Z" fill="#45fa2c"/>
<path d="M351.6,235.9L356.3,244.8L346.9,244.8Z" fill="#45fa2c"/>
<path d="M56.1,167.3L60.8,158.4L51.4,158.4Z" fill="#0a2aff"/>
<path d="M61.5,167.3L66.2,158.4L56.8,158.4Z" fill="#0a2aff"/>
<path d="M70.8,155.6L75.5,146.7L66.1,146.7Z" fill="#0a2aff"/>
<path d="M80.2,145.1L84.9,136.2L75.5,136.2Z" fill="#0a2aff"/>
<path d="M89.8,141.1L94.5,132.2L85.1,132.2Z" fill="#0a2aff"/>
<path d="M105.8,146.6L110.5,137.7L101.1,137.7Z" fill="#0a2aff"/>
<path d="M117.4,151.0L122.1,142.1L112.7,142.1Z" fill="#0a2aff"/>
<path d="M129.0,152.9L133.7,144.0L124.3,144.0Z" fill="#0a2aff"/>
<path d="M141.1,168.6L145.8,159.7L136.4,159.7Z" fill="#0a2aff"/>
<path d="M164.2,173.1L168.9,164.2L159.5,164.2Z" fill="#0a2aff"/>
<path d="M187.6,206.1L192.3,197.2L182.9,197.2Z" fill="#0a2aff"/>
<path d="M203.3,209.7L208.0,200.8L198.6,200.8Z" fill="#0a2aff"/>
<path d="M234.3,226.7L239.0,217.8L229.6,217.8Z" fill="#0a2aff"/>
<path d="M257.2,233.5L261.9,224.6L252.5,224.6Z" fill="#0a2aff"/>
<path d="M281.4,238.6L286.1,229.7L276.7,229.7Z" fill="#0a2aff"/>
<path d="M304.6,243.1L309.3,234.2L299.9,234.2Z" fill="#0a2aff"/>
<path d="M323.3,243.3L328.0,234.4L318.6,234.4Z" fill="#0a2aff"/>
<path d="M351.6,244.6L356.3,235.7L346.9,235.7Z" fill="#0a2aff"/>
<path d="M56.1,143.4L60.5,148.7L56.1,154.0L51.7,148.7Z" fill="#66f7b6"/>
<path d="M61.8,144.8L66.2,150.1L61.8,155.4L57.4,150.1Z" fill="#66f7b6"/>
<path d="M70.4,130.5L74.8,135.8L70.4,141.1L66.0,135.8Z" fill="#66f7b6"/>
<path d="M80.1,114.7L84.5,120.0L80.1,125.3L75.7,120.0Z" fill="#66f7b6"/>
<path d="M89.2,109.7L93.6,115.0L89.2,120.3L84.8,115.0Z" fill="#66f7b6"/>
<path d="M105.9,113.0L110.3,118.3L105.9,123.6L101.5,118.3Z" fill="#66f7b6"/>
<path d="M117.4,113.0L121.8,118.3L117.4,123.6L113.0,118.3Z" fill="#66f7b6"/>
<path d="M129.5,114.1L133.9,119.4L129.5,124.7L125.1,119.4Z" fill="#66f7b6"/>
<path d="M141.0,127.1L145.4,132.4L141.0,137.7L136.6,132.4Z" fill="#66f7b6"/>
<path d="M164.3,150.2L168.7,155.5L164.3,160.8L159.9,155.5Z" fill="#66f7b6"/>
<path d="M187.5,173.2L191.9,178.5L187.5,183.8L183.1,178.5Z" fill="#66f7b6"/>
<path d="M203.8,183.9L208.2,189.2L203.8,194.5L199.4,189.2Z" fill="#66f7b6"/>
<path d="M234.3,206.0L238.7,211.3L234.3,216.6L229.9,211.3Z" fill="#66f7b6"/>
<path d="M257.3,217.6L261.7,222.9L257.3,228.2L252.9,222.9Z" fill="#66f7b6"/>
<path d="M281.4,222.1L285.8,227.4L281.4,232.7L277.0,227.4Z" fill="#66f7b6"/>
<path d="M304.6,228.7L309.0,234.0L304.6,239.3L300.2,234.0Z" fill="#66f7b6"/>
<path d="M323.3,228.7L327.7,234.0L323.3,239.3L318.9,234.0Z" fill="#66f7b6"/>
<path d="M351.6,232.2L356.0,237.5L351.6,242.8L347.2,237.5Z" fill="#66f7b6"/>
<path d="M51.8,129.0L60.3,124.2L60.3,133.8Z" fill="#aa22f8"/>
<path d="M56.5,128.8L65.0,124.0L65.0,133.6Z" fill="#aa22f8"/>
<path d="M65.9,112.7L74.4,107.9L74.4,117.5Z" fill="#aa22f8"/>
<path d="M75.0,97.6L83.5,92.8L83.5,102.4Z" fill="#aa22f8"/>
<path d="M84.2,97.0L92.7,92.2L92.7,101.8Z" fill="#aa22f8"/>
<path d="M101.0,96.0L109.5,91.2L109.5,100.8Z" fill="#aa22f8"/>
<path d="M112.5,89.3L121.0,84.5L121.0,94.1Z" fill="#aa22f8"/>
<path d="M123.9,90.3L132.4,85.5L132.4,95.1Z" fill="#aa22f8"/>
<path d="M136.1,92.5L144.6,87.7L144.6,97.3Z" fill="#aa22f8"/>
<path d="M159.4,99.7L167.9,94.9L167.9,104.5Z" fill="#aa22f8"/>
<path d="M182.9,147.4L191.4,142.6L191.4,152.2Z" fill="#aa22f8"/>
<path d="M199.2,148.1L207.7,143.3L207.7,152.9Z" fill="#aa22f8"/>
<path d="M229.4,181.9L237.9,177.1L237.9,186.7Z" fill="#aa22f8"/>
<path d="M252.6,203.6L261.1,198.8L261.1,208.4Z" fill="#aa22f8"/>
<path d="M276.7,214.4L285.2,209.6L285.2,219.2Z" fill="#aa22f8"/>
<path d="M300.3,225.5L308.8,220.7L308.8,230.3Z" fill="#aa22f8"/>
<path d="M319.0,227.0L327.5,222.2L327.5,231.8Z" fill="#aa22f8"/>
<path d="M347.3,234.0L355.8,229.2L355.8,238.8Z" fill="#aa22f8"/>
<path d="M60.5,117.0L52.0,112.1L52.0,121.9Z" fill="#5f7800"/>
<path d="M65.9,117.0L57.4,112.1L57.4,121.9Z" fill="#5f7800"/>
<path d="M76.3,98.3L67.8,93.4L67.8,103.2Z" fill="#5f7800"/>
<path d="M85.5,79.8L77.0,74.9L77.0,84.7Z" fill="#5f7800"/>
<path d="M95.2,76.2L86.7,71.3L86.7,81.1Z" fill="#5f7800"/>
<path d="M111.4,67.5L102.9,62.6L102.9,72.4Z" fill="#5f7800"/>
<path d="M123.0,66.1L114.5,61.2L114.5,71.0Z" fill="#5f7800"/>
<path d="M134.7,64.3L126.2,59.4L126.2,69.2Z" fill="#5f7800"/>
<path d="M146.4,68.4L137.9,63.5L137.9,73.3Z" fill="#5f7800"/>
<path d="M170.0,71.0L161.5,66.1L161.5,75.9Z" fill="#5f7800"/>
<path d="M192.9,120.3L184.4,115.4L184.4,125.2Z" fill="#5f7800"/>
<path d="M209.0,139.0L200.5,134.1L200.5,143.9Z" fill="#5f7800"/>
<path d="M239.4,176.9L230.9,172.0L230.9,181.8Z" fill="#5f7800"/>
<path d="M262.6,201.9L254.1,197.0L254.1,206.8Z" fill="#5f7800"/>
<path d="M285.6,214.3L277.1,209.4L277.1,219.2Z" fill="#5f7800"/>
<path d="M309.0,225.0L300.5,220.1L300.5,229.9Z" fill="#5f7800"/>
<path d="M327.7,226.5L319.2,221.6L319.2,231.4Z" fill="#5f7800"/>
<path d="M356.0,233.5L347.5,228.6L347.5,238.4Z" fill="#5f7800"/>
<polygon points="56.1,100.7 52.2,102.9 52.2,107.5 56.1,109.8 60.0,107.5 60.0,102.9" fill="#5a04aa"/>
<polygon points="61.5,100.0 57.6,102.3 57.6,106.9 61.5,109.1 65.4,106.9 65.4,102.3" fill="#5a04aa"/>
<polygon points="70.8,78.8 66.9,81.0 66.9,85.6 70.8,87.8 74.7,85.6 74.7,81.0" fill="#5a04aa"/>
<polygon points="80.2,59.4 76.3,61.6 76.3,66.2 80.2,68.5 84.1,66.2 84.1,61.6" fill="#5a04aa"/>
<polygon points="89.3,55.6 85.4,57.8 85.4,62.4 89.3,64.7 93.2,62.4 93.2,57.8" fill="#5a04aa"/>
<polygon points="105.9,47.0 102.0,49.2 102.0,53.8 105.9,56.0 109.8,53.8 109.8,49.2" fill="#5a04aa"/>
<polygon points="117.5,44.4 113.6,46.6 113.6,51.2 117.5,53.4 121.4,51.2 121.4,46.6" fill="#5a04aa"/>
<polygon points="129.3,43.8 125.4,46.0 125.4,50.6 129.3,52.8 133.2,50.6 133.2,46.0" fill="#5a04aa"/>
<polygon points="141.1,44.7 137.2,46.9 137.2,51.5 141.1,53.8 145.0,51.5 145.0,46.9" fill="#5a04aa"/>
<polygon points="164.3,51.2 160.4,53.5 160.4,58.1 164.3,60.3 168.2,58.1 168.2,53.5" fill="#5a04aa"/>
<polygon points="187.7,100.4 183.8,102.6 183.8,107.2 187.7,109.5 191.6,107.2 191.6,102.6" fill="#5a04aa"/>
<polygon points="204.0,125.6 200.1,127.9 200.1,132.5 204.0,134.8 207.9,132.5 207.9,127.9" fill="#5a04aa"/>
<polygon points="234.4,164.6 230.5,166.9 230.5,171.5 234.4,173.8 238.3,171.5 238.3,166.9" fill="#5a04aa"/>
<polygon points="257.3,191.1 253.4,193.4 253.4,198.0 257.3,200.2 261.2,198.0 261.2,193.4" fill="#5a04aa"/>
<polygon points="281.0,205.6 277.1,207.9 277.1,212.5 281.0,214.8 284.9,212.5 284.9,207.9" fill="#5a04aa"/>
<polygon points="304.6,220.6 300.7,222.9 300.7,227.5 304.6,229.8 308.5,227.5 308.5,222.9" fill="#5a04aa"/>
<polygon points="323.3,222.3 319.4,224.6 319.4,229.2 323.3,231.5 327.2,229.2 327.2,224.6" fill="#5a04aa"/>
<polygon points="351.6,229.2 347.7,231.5 347.7,236.1 351.6,238.4 355.5,236.1 355.5,231.5" fill="#5a04aa"/>
</g>
<rect x="51.5" y="8.0" width="323.3" height="239.9" fill="none" stroke="#000" stroke-width="2"/>
<path d="M46.0,240.6H51.5M48.5,226.0H51.5M46.0,211.5H51.5M48.5,196.9H51.5M46.0,182.4H51.5M48.5,167.8H51.5M46.0,153.2H51.5M48.5,138.7H51.5M46.0,124.1H51.5M48.5,109.6H51.5M46.0,95.0H51.5M48.5,80.4H51.5M46.0,65.9H51.5M48.5,51.3H51.5M46.0,36.8H51.5M48.5,22.2H51.5M46.0,7.6H51.5M70.8,247.9V250.9M94.2,247.9V253.4M117.6,247.9V250.9M141.0,247.9V253.4M164.4,247.9V250.9M187.8,247.9V253.4M211.2,247.9V250.9M234.6,247.9V253.4M258.0,247.9V250.9M281.4,247.9V253.4M304.8,247.9V250.9M328.2,247.9V253.4M351.6,247.9V250.9" stroke="#000" stroke-width="1.6" fill="none"/>
<text x="40.5" y="246.5" text-anchor="end">0</text>
<text x="40.5" y="217.4" text-anchor="end">2</text>
<text x="40.5" y="188.3" text-anchor="end">4</text>
<text x="40.5" y="159.1" text-anchor="end">6</text>
<text x="40.5" y="130.0" text-anchor="end">8</text>
<text x="40.5" y="100.9" text-anchor="end">10</text>
<text x="40.5" y="71.8" text-anchor="end">12</text>
<text x="40.5" y="42.7" text-anchor="end">14</text>
<text x="40.5" y="13.5" text-anchor="end">16</text>
<text x="94.2" y="270.8" text-anchor="middle">1</text>
<text x="141.0" y="270.8" text-anchor="middle">2</text>
<text x="187.8" y="270.8" text-anchor="middle">3</text>
<text x="234.6" y="270.8" text-anchor="middle">4</text>
<text x="281.4" y="270.8" text-anchor="middle">5</text>
<text x="328.2" y="270.8" text-anchor="middle">6</text>
<text x="375.0" y="270.8" text-anchor="middle">7</text>
<text x="213.5" y="292" text-anchor="middle"><tspan font-style="italic">z</tspan> (m)</text>
<text transform="translate(15.2,130.6) rotate(-90)" text-anchor="middle" style="font-size:15px"><tspan font-style="italic">q</tspan>″ (kW/m<tspan style="font-size:9.5px" dy="-7.5">2</tspan><tspan dy="7.5">)</tspan></text>
<text x="268" y="36.6"><tspan font-style="italic">L</tspan> = 1 m</text>
<text x="268" y="54.8" font-style="italic">D</text>
<path d="M281,49.3H314.5" stroke="#000000" stroke-width="1.5"/>
<rect x="294.5" y="45.6" width="7.4" height="7.4" fill="#000000"/>
<text x="318.6" y="54.8">20 cm</text>
<path d="M282.7,67.3H316.4" stroke="#ff0814" stroke-width="1.5"/>
<circle cx="299.5" cy="67.3" r="4.10" fill="#ff0814"/>
<text x="320.2" y="72.8">25 cm</text>
<path d="M282.7,85.3H316.4" stroke="#45fa2c" stroke-width="1.5"/>
<path d="M299.5,80.8L304.2,89.6L294.8,89.6Z" fill="#45fa2c"/>
<text x="320.2" y="90.8">30 cm</text>
<path d="M282.7,103.4H316.4" stroke="#0a2aff" stroke-width="1.5"/>
<path d="M299.5,108.0L304.2,99.1L294.8,99.1Z" fill="#0a2aff"/>
<text x="320.2" y="108.9">35 cm</text>
<path d="M282.7,121.5H316.4" stroke="#66f7b6" stroke-width="1.5"/>
<path d="M299.5,116.2L303.9,121.5L299.5,126.8L295.1,121.5Z" fill="#66f7b6"/>
<text x="320.2" y="127.0">40 cm</text>
<path d="M282.7,139.5H316.4" stroke="#aa22f8" stroke-width="1.5"/>
<path d="M295.2,139.5L303.7,134.7L303.7,144.3Z" fill="#aa22f8"/>
<text x="320.2" y="145.0">45 cm</text>
<path d="M282.7,157.6H316.4" stroke="#5f7800" stroke-width="1.5"/>
<path d="M303.9,157.6L295.4,152.7L295.4,162.5Z" fill="#5f7800"/>
<text x="320.2" y="163.1">50 cm</text>
<path d="M282.7,175.6H316.4" stroke="#780608" stroke-width="1.5"/>
<polygon points="299.5,171.1 295.6,173.3 295.6,177.9 299.5,180.2 303.4,177.9 303.4,173.3" fill="#780608"/>
<text x="320.2" y="181.1">55 cm</text>
</svg></body></html>
